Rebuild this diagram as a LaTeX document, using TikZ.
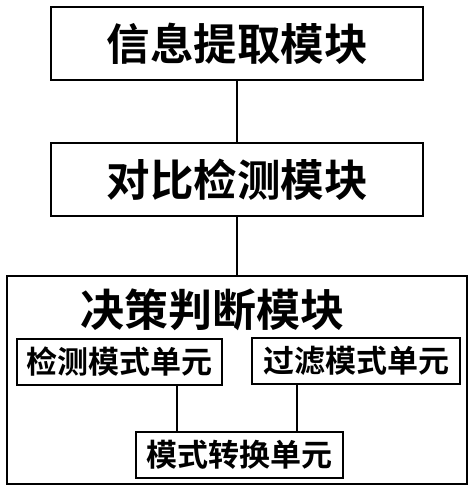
\documentclass[tikz,border=0pt]{standalone}
\usepackage{fontspec}
\newfontfamily\cjk{Noto Sans CJK SC Bold}
\begin{document}
\begin{tikzpicture}[x=1pt,y=-1pt,
  box/.style={draw=black,line width=1.4pt,inner sep=0pt,fill=white},
  bigbox/.style={box,minimum width=372pt,minimum height=73pt,font=\cjk\fontsize{43.5}{46}\selectfont},
  unitbox/.style={box,minimum height=46pt,font=\cjk\fontsize{31}{34}\selectfont},
  link/.style={draw=black,line width=1.2pt}]
\useasboundingbox (0,0) rectangle (474,492);
\node[box,minimum width=460pt,minimum height=208pt] (outer) at (237,380) {};
\node[bigbox] (info) at (237,43.5) {信息提取模块};
\node[bigbox] (cmp) at (237,179.5) {对比检测模块};
\node[font=\cjk\fontsize{44}{46}\selectfont,inner sep=0pt] (title) at (212,310) {决策判断模块};
\node[unitbox,minimum width=205pt] (det) at (119.5,362) {检测模式单元};
\node[unitbox,minimum width=208pt] (flt) at (356,361) {过滤模式单元};
\node[unitbox,minimum width=207pt] (sw) at (239.5,455) {模式转换单元};
\coordinate (c1) at (177,0);
\coordinate (c2) at (297,0);
\draw[link] (info.south) -- (cmp.north);
\draw[link] (cmp.south) -- (cmp.south |- outer.north);
\draw[link] (det.south -| c1) -- (sw.north -| c1);
\draw[link] (flt.south -| c2) -- (sw.north -| c2);
\end{tikzpicture}
\end{document}
